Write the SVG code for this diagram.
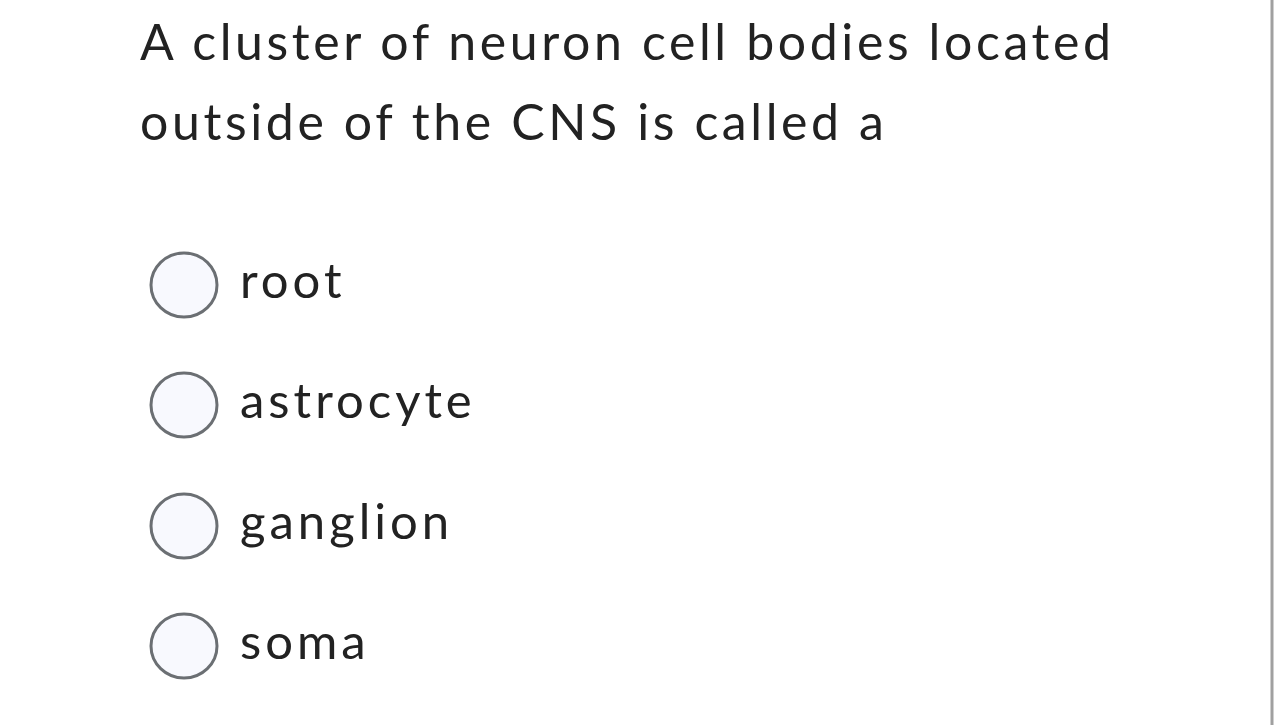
<svg xmlns="http://www.w3.org/2000/svg" width="1275" height="725" viewBox="0 0 1275 725">
<style>
.q{font-family:Lato,"Open Sans",sans-serif;font-size:50px;fill:#222;letter-spacing:3.6px}
.o{font-family:Lato,"Open Sans",sans-serif;font-size:49px;fill:#222;letter-spacing:4px}
.r{fill:#f8f9fe;stroke:#6b6f73;stroke-width:3}
</style>
<rect width="1275" height="725" fill="#fff"/>
<line x1="1272" y1="0" x2="1272" y2="725" stroke="#a0a0a0" stroke-width="3"/>
<g id="question">
<text class="q" x="140" y="60">A cluster of neuron cell bodies located</text>
<text class="q" x="140" y="140">outside of the CNS is called a</text>
</g>
<g id="opt1"><ellipse class="r" cx="184" cy="285" rx="33" ry="32"/><text class="o" x="240" y="298">root</text></g>
<g id="opt2"><ellipse class="r" cx="184" cy="405" rx="33" ry="32"/><text class="o" x="240" y="418">astrocyte</text></g>
<g id="opt3"><ellipse class="r" cx="184" cy="526" rx="33" ry="32"/><text class="o" x="240" y="539">ganglion</text></g>
<g id="opt4"><ellipse class="r" cx="184" cy="646" rx="33" ry="32"/><text class="o" x="240" y="659">soma</text></g>
</svg>
